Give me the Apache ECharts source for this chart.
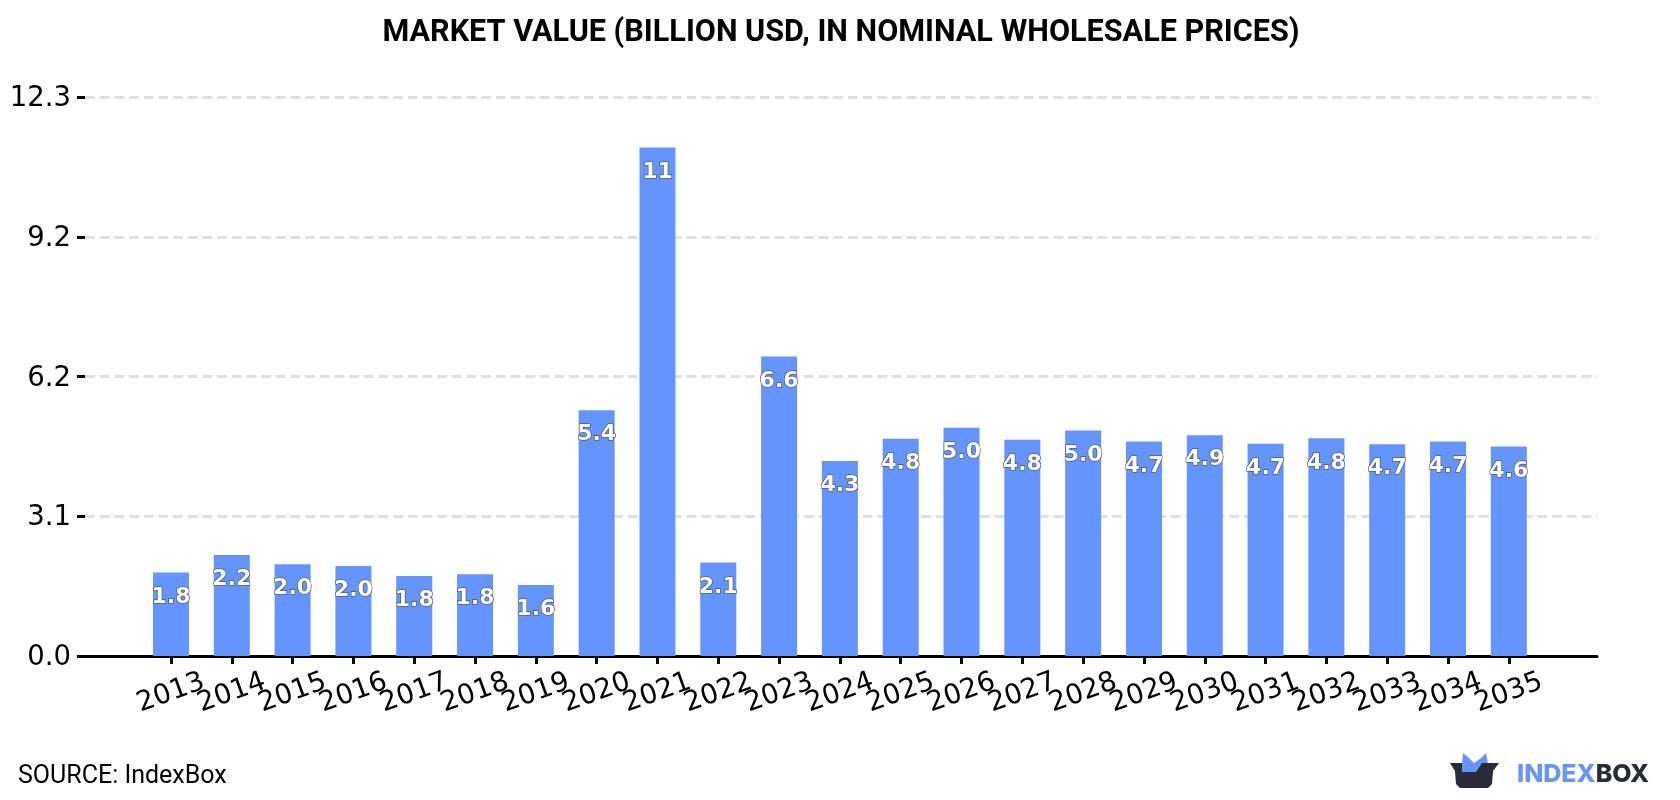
<!DOCTYPE html>
<html>
<head>
<meta charset="utf-8">
<style>html,body{margin:0;padding:0;background:#fff}#chart{width:1680px;height:800px}</style>
<script src="https://cdn.jsdelivr.net/npm/echarts@6/dist/echarts.min.js"></script>
</head>
<body>
<div id="chart"></div>
<script>
// Market value by year, billion USD
const years = [2013,2014,2015,2016,2017,2018,2019,2020,2021,2022,2023,2024,2025,2026,2027,2028,2029,2030,2031,2032,2033,2034,2035];
const values = [1.84,2.22,2.02,1.98,1.76,1.80,1.56,5.41,11.19,2.06,6.59,4.29,4.78,5.02,4.76,4.96,4.72,4.86,4.67,4.79,4.66,4.72,4.61];
const yStep = 3.075;
const yMax = 12.3;
const titleText = 'MARKET VALUE (BILLION USD, IN NOMINAL WHOLESALE PRICES)';
const sourceText = 'SOURCE: IndexBox';

const BLUE = '#6495ff';
const DARK = '#2a2b38';

// Year labels overlap their neighbours, so odd and even years go on two
// coincident axes; that keeps the overlap check from dropping any of them.
const xExtent = {type: 'value', min: 2011.586, max: 2036.45, splitLine: {show: false}};
const yearLabels = customValues => ({
  customValues,
  showMinLabel: true,
  showMaxLabel: true,
  hideOverlap: false,
  rotate: 20,
  margin: 37,
  align: 'center',
  verticalAlign: 'middle',
  fontFamily: 'DejaVu Sans',
  fontSize: 27.5,
  color: '#000',
  formatter: v => String(v)
});

const chart = echarts.init(document.getElementById('chart'), null, {renderer: 'canvas'});
chart.setOption({
  animation: false,
  backgroundColor: '#fff',
  title: {
    text: titleText,
    left: 836,
    top: 13,
    textAlign: 'center',
    textStyle: {fontFamily: 'Roboto', fontWeight: 'bold', fontSize: 30.6, color: '#000'}
  },
  grid: {left: 85, right: 83, top: 97, bottom: 144, containLabel: false},
  xAxis: [
    Object.assign({}, xExtent, {
      position: 'bottom',
      axisLine: {show: true, onZero: true, lineStyle: {color: '#000', width: 3}},
      axisTick: {show: true, length: 8, lineStyle: {color: '#000', width: 3}, customValues: years},
      axisLabel: yearLabels(years.filter(y => y % 2 === 1))
    }),
    Object.assign({}, xExtent, {
      position: 'bottom',
      axisLine: {show: false},
      axisTick: {show: false},
      axisLabel: yearLabels(years.filter(y => y % 2 === 0))
    })
  ],
  yAxis: {
    type: 'value',
    min: 0,
    max: yMax,
    interval: yStep,
    axisLine: {show: false},
    axisTick: {show: true, length: 8, lineStyle: {color: '#000', width: 3}},
    axisLabel: {
      margin: 14,
      verticalAlign: 'top',
      lineHeight: 4,
      fontFamily: 'DejaVu Sans',
      fontSize: 27.5,
      color: '#000',
      formatter: v => v.toFixed(1)
    },
    splitLine: {show: true, lineStyle: {color: '#e0e0e0', width: 3, type: [10, 4.67]}}
  },
  series: [{
    type: 'bar',
    xAxisIndex: 0,
    barWidth: 36,
    itemStyle: {color: BLUE},
    data: years.map((y, i) => [y, values[i]]),
    label: {
      show: true,
      position: 'insideTop',
      distance: 13.5,
      fontFamily: 'DejaVu Sans',
      fontWeight: 'bold',
      fontSize: 22,
      color: '#fff',
      textBorderColor: '#444',
      textBorderWidth: 1.2,
      formatter: p => p.value[1].toPrecision(2)
    }
  }],
  graphic: [
    {type: 'text', left: 18, top: 764, style: {text: sourceText, font: '25px Roboto', fill: '#000'}},
    // Logo: box with blue contents and the two-tone wordmark
    {type: 'polygon', shape: {points: [[1462,764],[1463,753],[1469,758],[1474,763],[1481,758],[1486,753],[1488,764],[1481,772],[1462,772]]}, style: {fill: BLUE}},
    {type: 'polygon', shape: {points: [[1450,763],[1462,763],[1462,772],[1476,772],[1482,763],[1499,763],[1493,771],[1492,784],[1488,788],[1460,788],[1456,784],[1455,771]]}, style: {fill: DARK}},
    {type: 'text', left: 1517, top: 762, style: {
      text: '{a|INDEX}{b|BOX}',
      rich: {
        a: {fontFamily: 'Inter', fontWeight: 800, fontSize: 25, fill: BLUE, color: BLUE},
        b: {fontFamily: 'Inter', fontWeight: 800, fontSize: 25, fill: DARK, color: DARK}
      }
    }}
  ]
});
</script>
</body>
</html>
